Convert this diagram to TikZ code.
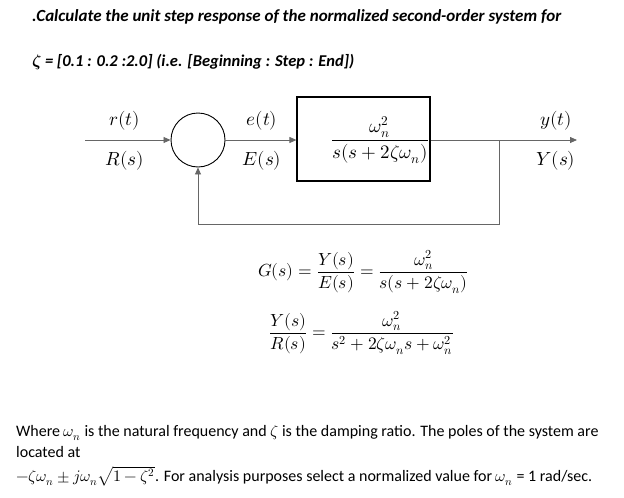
\documentclass[tikz,border=0pt]{standalone}
\usepackage{amsmath}
\usepackage{fontspec}
\usepackage{unicode-math}
\setmainfont{Carlito}
\setmathfont{Latin Modern Math}
\usetikzlibrary{arrows.meta}
\begin{document}
\begin{tikzpicture}[x=1pt,y=-1pt,
  sig/.style={draw=black!60,line width=0.8pt},
  arr/.style={sig,-{Triangle[length=7pt,width=6pt]},shorten >=0pt},
  lab/.style={font=\fontsize{19}{22}\selectfont},
  eqn/.style={anchor=west,inner sep=0,font=\fontsize{17.5}{21}\selectfont},
  txt/.style={anchor=west,inner sep=0,font=\fontsize{16}{19}\selectfont}]
\useasboundingbox (0,0) rectangle (624,498);
\node[txt,font=\fontsize{17}{20}\selectfont\bfseries\itshape] (t1) at (32,17) {.Calculate the unit step response of the normalized second-order system for};
\node[txt,font=\fontsize{16.5}{20}\selectfont\bfseries\itshape] (t2) at (32,62) {$\symbf{\zeta}$ = [0.1 : 0.2 :2.0] (i.e. [Beginning : Step : End])};
\coordinate (in) at (85,140);
\node[circle,draw,line width=0.9pt,minimum size=54pt,inner sep=0] (sum) at (198,140) {};
\node[draw,line width=1.2pt,minimum width=133pt,minimum height=84pt,inner sep=0] (G) at (363.5,139) {};
\node[lab,inner sep=0] (frac) at (380,140) {$\dfrac{\omega_n^2}{s(s+2\zeta\omega_n)}$};
\coordinate (br) at (499,140);
\coordinate (out) at (577,140);
\coordinate (fb) at (198,224);
\draw[arr] (in) -- (sum.west);
\draw[arr] (sum.east) -- (G.west|-sum);
\draw[sig] (G.east|-br) -- (br);
\draw[arr] (br) -- (out);
\draw[arr] (br) |- (fb) -- (sum.south);
\node[lab] (rt) at (125,121) {$r(t)$};
\node[lab] (Rs) at (125,161) {$R(s)$};
\node[lab] (et) at (262,121) {$e(t)$};
\node[lab] (Es) at (262,161) {$E(s)$};
\node[lab] (yt) at (556,121) {$y(t)$};
\node[lab] (Ys) at (556,161) {$Y(s)$};
\node[eqn] (eq1) at (258,272) {$G(s)=\dfrac{Y(s)}{E(s)}=\dfrac{\omega_n^2}{s(s+2\zeta\omega_n)}$};
\node[eqn] (eq2) at (269,333) {$\dfrac{Y(s)}{R(s)}=\dfrac{\omega_n^2}{s^2+2\zeta\omega_n s+\omega_n^2}$};
\node[txt] (p1) at (16,433) {Where $\omega_n$ is the natural frequency and $\zeta$ is the damping ratio. The poles of the system are};
\node[txt] (p2) at (16,452) {located at};
\node[txt] (p3) at (16,476) {$-\zeta\omega_n \pm j\omega_n\sqrt{1-\zeta^2}$. For analysis purposes select a normalized value for $\omega_n$ = 1 rad/sec.};
\end{tikzpicture}
\end{document}
